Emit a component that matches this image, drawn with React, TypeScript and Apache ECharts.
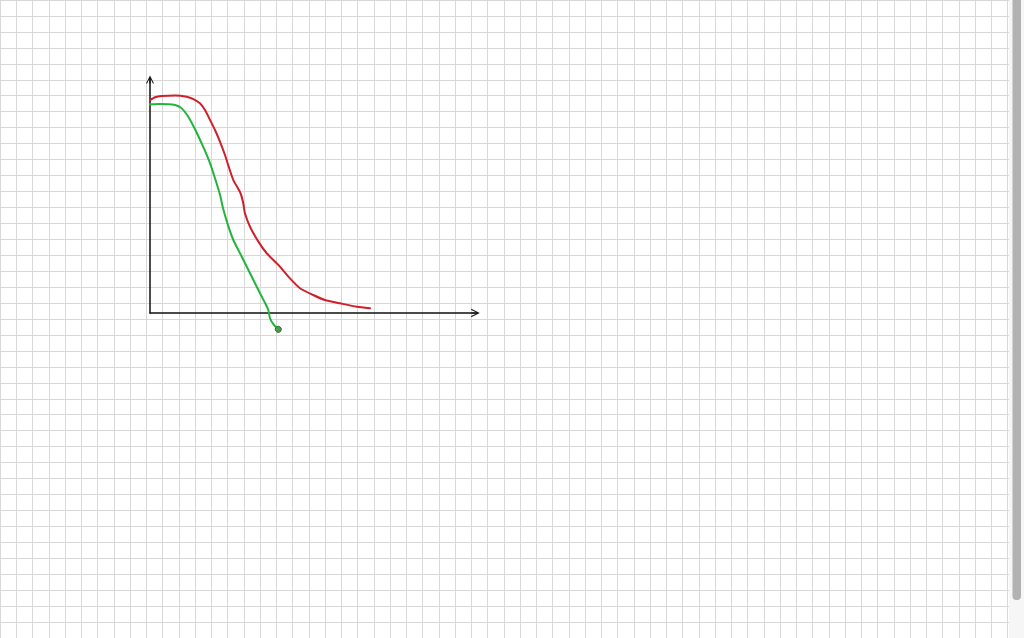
import { useEffect, useRef } from "react";
import * as echarts from "echarts";

// squared paper, px
const SQ = 16.37;
const PAPER_X0 = 9.3;
const PAPER_Y0 = 14.3;
const PAPER_COLS = 63;
const PAPER_ROWS = 40;

// sketch axes, px on the page
const ORIGIN_X = 150;
const ORIGIN_Y = 313;
const X_END = 475.5;
const Y_END = 79.5;

// curves, in paper squares from the origin
const redCurve: [number, number][] = [
  [0, 13.01], [0.31, 13.18], [0.71, 13.26], [1.53, 13.29], [2.24, 13.21],
  [2.65, 13.07], [3.05, 12.81], [3.36, 12.4], [3.67, 11.79], [3.97, 11.18],
  [4.28, 10.46], [4.58, 9.65], [4.84, 8.84], [5.09, 8.12], [5.5, 7.39],
  [5.68, 6.8], [5.8, 6.09], [6.11, 5.27], [6.62, 4.36], [7.13, 3.65],
  [7.94, 2.83], [8.45, 2.22], [9.16, 1.51], [9.97, 1.1], [10.69, 0.79],
  [11.61, 0.59], [12.63, 0.38], [13.44, 0.29],
];

const greenCurve: [number, number][] = [
  [-0.09, 12.74], [0.61, 12.77], [1.53, 12.71], [1.94, 12.5], [2.34, 11.99],
  [2.65, 11.42], [2.95, 10.81], [3.36, 9.9], [3.67, 9.14], [3.97, 8.23],
  [4.28, 7.21], [4.45, 6.45], [4.76, 5.38], [5.09, 4.46], [5.5, 3.65],
  [6.11, 2.43], [6.72, 1.21], [7.03, 0.61], [7.23, 0.18], [7.33, -0.32],
  [7.57, -0.73], [7.84, -1.0],
];

// open chevron with a stem, tip up (ECharts turns it along the axis)
const ARROW = "path://M5,0L10,10L8.6,10L5,2.6L1.4,10L0,10ZM4.3,1.5L5.7,1.5L5.7,10L4.3,10Z";

const hidden = { show: false };

export default function App() {
  const ref = useRef<HTMLDivElement | null>(null);

  useEffect(() => {
    if (!ref.current) return;
    const chart = echarts.init(ref.current, undefined, { renderer: "svg" });

    const lastGreen = greenCurve.length - 1;

    chart.setOption({
      animation: false,
      backgroundColor: "#ffffff",
      grid: [
        {
          left: PAPER_X0 - SQ,
          top: PAPER_Y0 - SQ,
          width: SQ * PAPER_COLS,
          height: SQ * PAPER_ROWS,
        },
        {
          left: ORIGIN_X,
          top: Y_END,
          width: X_END - ORIGIN_X,
          height: ORIGIN_Y - Y_END,
        },
      ],
      xAxis: [
        {
          gridIndex: 0,
          type: "value",
          min: 0,
          max: PAPER_COLS,
          interval: 1,
          axisLine: hidden,
          axisTick: hidden,
          axisLabel: hidden,
          splitLine: { show: true, lineStyle: { color: "#d8d8d8", width: 1 } },
        },
        {
          gridIndex: 1,
          type: "value",
          min: 0,
          max: (X_END - ORIGIN_X) / SQ,
          axisLine: {
            show: true,
            onZero: false,
            symbol: ["none", ARROW],
            symbolSize: [8.5, 9],
            lineStyle: { color: "#111111", width: 1.5 },
          },
          axisTick: hidden,
          axisLabel: hidden,
          splitLine: hidden,
        },
      ],
      yAxis: [
        {
          gridIndex: 0,
          type: "value",
          min: 0,
          max: PAPER_ROWS,
          interval: 1,
          axisLine: hidden,
          axisTick: hidden,
          axisLabel: hidden,
          splitLine: { show: true, lineStyle: { color: "#d8d8d8", width: 1 } },
        },
        {
          gridIndex: 1,
          type: "value",
          min: 0,
          max: (ORIGIN_Y - Y_END) / SQ,
          axisLine: {
            show: true,
            onZero: false,
            symbol: ["none", ARROW],
            symbolSize: [9, 8],
            lineStyle: { color: "#111111", width: 1.5 },
          },
          axisTick: hidden,
          axisLabel: hidden,
          splitLine: hidden,
        },
      ],
      series: [
        {
          type: "line",
          xAxisIndex: 1,
          yAxisIndex: 1,
          data: redCurve,
          showSymbol: false,
          smooth: 0.2,
          clip: false,
          lineStyle: { color: "#d01f2a", width: 2, cap: "round", join: "round" },
        },
        {
          type: "line",
          xAxisIndex: 1,
          yAxisIndex: 1,
          data: greenCurve.map((p, i) =>
            i === lastGreen
              ? {
                  value: p,
                  symbol: "circle",
                  symbolSize: 6,
                  itemStyle: { color: "#4f9a52", borderColor: "#2a6e2d", borderWidth: 1 },
                }
              : { value: p, symbol: "none" }
          ),
          showSymbol: true,
          smooth: 0.2,
          clip: false,
          lineStyle: { color: "#22b43c", width: 2, cap: "round", join: "round" },
        },
      ],
      graphic: [
        {
          type: "rect",
          z: 100,
          shape: { x: 1009, y: 0, width: 15, height: 638 },
          style: { fill: "#f6f6f6" },
        },
        {
          type: "rect",
          z: 101,
          shape: { x: 1012.5, y: -6, width: 8.5, height: 606, r: 4 },
          style: { fill: "#b2b2b2" },
        },
      ],
    });

    return () => chart.dispose();
  }, []);

  return (
    <div
      ref={ref}
      style={{ position: "fixed", left: 0, top: 0, width: 1024, height: 638 }}
    />
  );
}
